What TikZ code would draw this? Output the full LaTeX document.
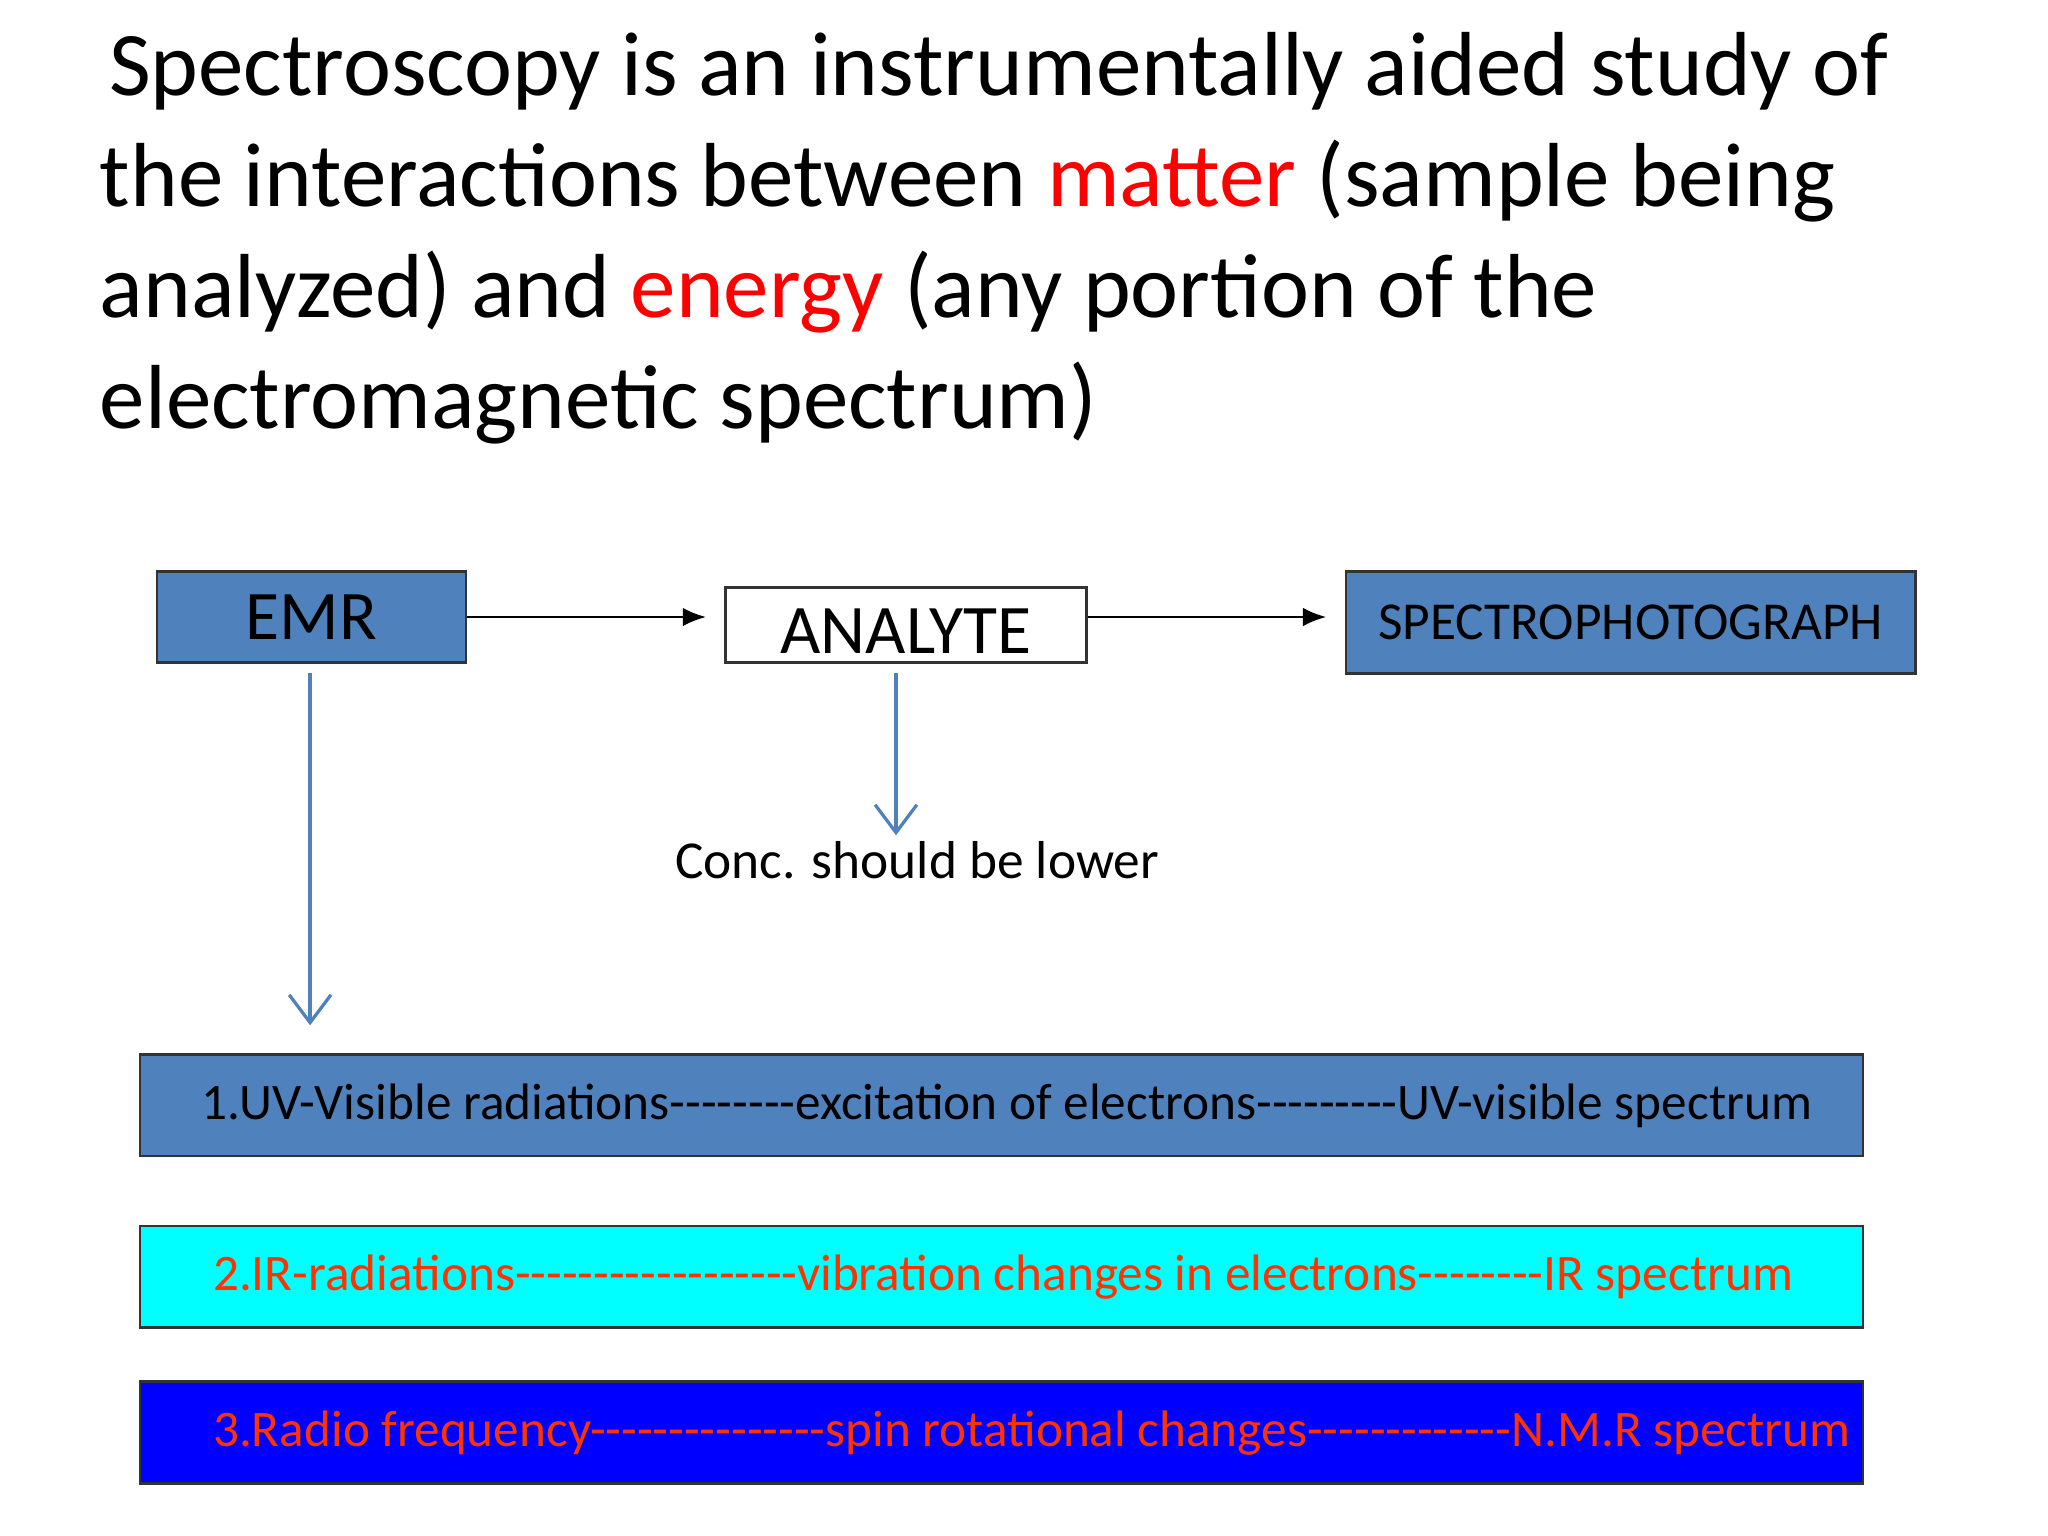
\documentclass[tikz,border=0pt]{standalone}
\usepackage{fontspec}
\setmainfont{Carlito}[Ligatures=TeXOff]
\usetikzlibrary{arrows.meta}
\definecolor{boxblue}{HTML}{4F81BD}
\definecolor{txtred}{HTML}{FF3300}
\definecolor{aqua}{HTML}{00FFFF}
\tikzset{
  bx/.style={draw=black!80,line width=0.6pt,inner sep=0pt,anchor=north west},
  blk/.style={-{Latex[length=5pt,width=4pt]},line width=0.5pt},
  blu/.style={draw=boxblue,line width=0.7pt,-{Straight Barb[length=6pt,width=9pt]}},
  bartext/.style={anchor=west,font=\fontsize{11.05}{14}\selectfont}
}
\begin{document}
\begin{tikzpicture}[x=0.01cm,y=-0.01cm]
\useasboundingbox (0,0) rectangle (1552,1164);
\fill[white] (0,0) rectangle (1552,1164);
\node[anchor=north west,align=left,font=\fontsize{19.6}{23.9}\selectfont,inner sep=0pt] (title) at (75,24)
{\hspace*{2pt}Spectroscopy is an instrumentally aided study of\\
the interactions between \textcolor{red}{matter} (sample being\\
analyzed) and \textcolor{red}{energy} (any portion of the\\
electromagnetic spectrum)};
\node[bx,fill=boxblue,minimum width=2.34cm,minimum height=0.69cm] (emr) at (118,432) {};
\node[font=\fontsize{15}{18}\selectfont] at (emr.center) {EMR};
\node[bx,fill=white,minimum width=2.73cm,minimum height=0.57cm] (ana) at (549,444) {};
\node[font=\fontsize{15}{18}\selectfont] at ([yshift=-0.05cm]ana.center) {ANALYTE};
\node[bx,fill=boxblue,minimum width=4.31cm,minimum height=0.77cm] (spec) at (1019,432) {};
\node[font=\fontsize{11.5}{14}\selectfont] at (spec.center) {SPECTROPHOTOGRAPH};
\draw[blk] (emr.east) -- ([xshift=-0.14cm]ana.west |- emr.east);
\draw[blk] (ana.east |- emr.east) -- ([xshift=-0.14cm]spec.west |- emr.east);
\coordinate (e1) at (235,510); \coordinate (e2) at (235,777);
\draw[blu] (e1) -- (e2);
\coordinate (c1) at (679,510); \coordinate (c2) at (679,633);
\draw[blu] (c1) -- (c2);
\node[font=\fontsize{11.5}{14}\selectfont] (conc) at (695,652) {Conc. should be lower};
\node[bx,fill=boxblue,minimum width=13.05cm,minimum height=0.77cm] (b1) at (105,798) {};
\node[bartext] at (140,838) {1.UV-Visible radiations--------excitation of electrons---------UV-visible spectrum};
\node[bx,fill=aqua,minimum width=13.05cm,minimum height=0.77cm] (b2) at (105,928) {};
\node[bartext,text=txtred] at (149,968) {2.IR-radiations------------------vibration changes in electrons--------IR spectrum};
\node[bx,fill=blue,minimum width=13.05cm,minimum height=0.77cm] (b3) at (105,1046) {};
\node[bartext,text=txtred] at (149,1086) {3.Radio frequency---------------spin rotational changes-------------N.M.R spectrum};
\end{tikzpicture}
\end{document}
